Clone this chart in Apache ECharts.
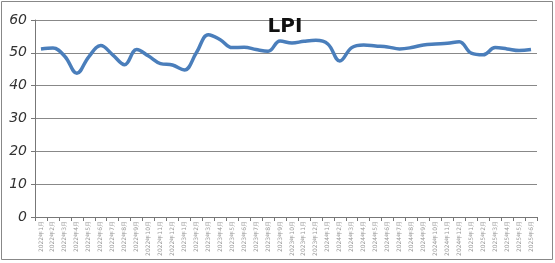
<!DOCTYPE html>
<html><head><meta charset="utf-8">
<script src="https://cdn.jsdelivr.net/npm/echarts@6/dist/echarts.min.js"></script>
<style>html,body{margin:0;padding:0;background:#fff}#c{width:555px;height:263px}</style>
</head><body><div id="c"></div>
<script>
const categories = [];
for (let y = 2022; y <= 2025; y++) { for (let m = 1; m <= 12; m++) { if (y === 2025 && m > 6) break; categories.push(y + '年' + m + '月'); } }
const lpiValues = [51.2, 51.5, 48.9, 43.8, 48.8, 52.2, 49.4, 46.4, 51.0, 49.0, 46.7, 46.3, 44.8, 50.0, 55.5, 54.0, 51.6, 51.7, 51.0, 50.5, 53.6, 53.0, 53.5, 53.8, 52.7, 47.5, 51.6, 52.4, 52.1, 51.8, 51.2, 51.6, 52.4, 52.7, 52.9, 53.4, 49.9, 49.4, 51.6, 51.2, 50.7, 51.0];
const yTicks = [0, 10, 20, 30, 40, 50, 60];
const chart = echarts.init(document.getElementById('c'));
chart.setOption({
  animation: false,
  title: { text: 'LPI', left: 280, top: 12, textAlign: 'center',
    textStyle: { fontFamily: 'DejaVu Sans', fontWeight: 'bold', fontSize: 20, color: '#111' } },
  graphic: [{ type: 'rect', shape: { x: 1.5, y: 1.5, width: 551, height: 258 }, style: { fill: 'none', stroke: '#888', lineWidth: 1 } }],
  grid: { left: 35, right: 18, top: 20, bottom: 46 },
  xAxis: { type: 'category', data: categories, boundaryGap: true,
    axisLine: { lineStyle: { color: '#777' } },
    axisTick: { show: true, length: 4, interval: 0, lineStyle: { color: '#777' } },
    axisLabel: { rotate: 90, interval: 0, fontSize: 6, color: '#999', margin: 4, fontFamily: 'DejaVu Sans' } },
  yAxis: { type: 'value', min: yTicks[0], max: yTicks[yTicks.length - 1], interval: 10,
    axisLine: { show: true, lineStyle: { color: '#777' } },
    axisTick: { show: true, length: 4, lineStyle: { color: '#777' } },
    splitLine: { lineStyle: { color: '#888', width: 1 } },
    axisLabel: { fontSize: 14, color: '#333', fontStyle: 'italic', fontFamily: 'DejaVu Sans', margin: 8 } },
  series: [{ type: 'line', data: lpiValues, smooth: 0.4, symbol: 'none',
    lineStyle: { color: '#4a7ebb', width: 3.5 } }]
});
</script></body></html>
